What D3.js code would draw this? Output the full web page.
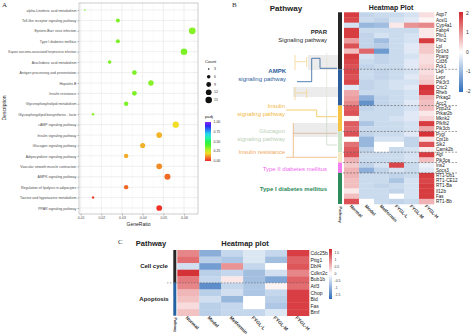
<!DOCTYPE html>
<html>
<head>
<meta charset="utf-8">
<script src="https://cdn.jsdelivr.net/npm/d3@7"></script>
<style>
  body { margin: 0; background: #fff; }
  text { font-family: "Liberation Sans", Arial, sans-serif; }
</style>
</head>
<body>
<svg id="fig" width="474" height="335"></svg>
<script>
// ---------- Panel A: KEGG enrichment dot plot ----------
const descriptions = [
  "alpha-Linolenic acid metabolism", "Toll-like receptor signaling pathway", "Epstein-Barr virus infection",
  "Type I diabetes mellitus", "Kaposi sarcoma-associated herpesvirus infection", "Arachidonic acid metabolism",
  "Antigen processing and presentation", "Hepatitis B", "Insulin resistance", "Glycerophospholipid metabolism",
  "Glycosphingolipid biosynthesis - lacto", "cAMP signaling pathway", "Insulin signaling pathway",
  "Glucagon signaling pathway", "Adipocytokine signaling pathway", "Vascular smooth muscle contraction",
  "AMPK signaling pathway", "Regulation of lipolysis in adipocytes", "Taurine and hypotaurine metabolism",
  "PPAR signaling pathway"
];
const geneRatio = [0.012, 0.028, 0.064, 0.028, 0.060, 0.024, 0.036, 0.044, 0.036, 0.032,
                   0.016, 0.056, 0.048, 0.040, 0.032, 0.048, 0.052, 0.032, 0.016, 0.048];
const geneCount = [3, 7, 16, 7, 15, 6, 9, 11, 9, 8, 4, 14, 12, 10, 8, 12, 13, 8, 4, 12];
const pAdj = [0.36, 0.35, 0.34, 0.35, 0.35, 0.35, 0.35, 0.34, 0.35, 0.35,
              0.34, 0.2, 0.155, 0.15, 0.145, 0.11, 0.075, 0.07, 0.02, 0.01];
const ratioTicks = [0.01, 0.02, 0.03, 0.04, 0.05, 0.06];
const countBreaks = [3, 6, 9, 12, 15];
const padjBreaks = [1, 0.75, 0.5, 0.25, 0];

// ---------- Panel B: heatmap of pathway genes ----------
const groupsColumns = ["Normal", "Model", "Metformin", "FYGL-L", "FYGL-M", "FYGL-H"];
const bGenes = ["Aqp7", "Acsl1", "Cyp4a1", "Fabp4", "Plin1", "Plin2", "Lpl", "Nr1h3", "Pparg", "Cd36", "Pck1",
  "Lep", "Lepr", "Pik3r3", "Crtc2", "Rheb", "Prkag2", "Acc2",
  "Ppp2r2", "Prkar2b", "Mknk2", "Pfkfb2", "Pik3cb",
  "Pygl", "Cpt1b", "Sik2", "Camk2b",
  "Agt", "Pik3ca",
  "Ins2", "Socs3",
  "RT1-Db1", "RT1-CE12", "RT1-Ba", "Il12b", "Fas", "RT1-Bb"];
const bValues = [
  [1.8, -0.6, -0.5, -0.5, -0.4, 0.3],
  [1.7, -0.5, -0.6, -0.4, -0.3, 0.1],
  [-0.4, -1.0, -0.9, 0.2, 1.0, 1.1],
  [1.8, -0.5, -0.5, -0.5, -0.5, 0.2],
  [1.8, -0.6, -0.4, -0.5, -0.4, 0.2],
  [0.9, -0.6, -0.9, -0.5, -0.4, 1.8],
  [1.6, -0.6, -0.7, -0.5, -0.3, 0.5],
  [0.6, 1.4, -1.4, -0.5, -0.3, 0.5],
  [1.8, -0.4, -0.6, -0.5, -0.4, 0.3],
  [1.7, -0.5, -0.6, -0.5, -0.3, 0.3],
  [1.6, -0.6, -0.5, -0.5, -0.3, 0.4],
  [1.7, -0.5, -0.6, -0.5, -0.4, 0.3],
  [1.6, -0.5, -0.6, -0.5, -0.3, 0.4],
  [1.7, -0.6, -0.5, -0.4, -0.4, 0.5],
  [-0.3, -0.6, -0.5, -0.4, -0.3, 1.9],
  [0.8, -0.5, -0.5, -0.5, -0.4, 1.8],
  [0.9, -1.1, -0.6, -0.5, -0.4, 0.7],
  [1.1, -1.5, -0.6, -0.5, -0.3, 0.6],
  [1.5, -0.6, -0.5, -0.5, -0.4, 0.6],
  [1.6, -0.5, -0.5, -0.5, -0.3, 0.2],
  [0.1, -0.5, -0.5, -0.4, -0.3, 0.4],
  [1.5, -0.8, -0.5, -0.5, -0.4, 1.8],
  [1.4, -0.5, -0.5, -0.5, -0.4, 0.8],
  [1.6, -0.6, -0.5, -0.5, -0.3, 1.9],
  [0.0, -1.0, -0.4, -0.4, -0.6, 0.3],
  [1.3, -1.0, 0.0, 0.0, -0.6, 1.6],
  [1.5, -0.6, 0.0, -0.5, -0.4, 0.2],
  [1.6, -0.5, -0.5, -0.5, -0.4, 1.8],
  [0.7, -0.5, -0.5, -0.5, -0.4, 0.6],
  [0.5, -0.6, -0.4, 1.7, -0.5, -0.2],
  [0.7, -1.1, -0.6, -0.4, -0.5, -0.3],
  [0.7, -0.5, -0.5, -0.6, -0.5, 1.8],
  [0.6, -0.5, -0.5, -0.8, -0.4, 1.7],
  [0.6, -0.5, -0.6, -0.5, -0.4, 1.8],
  [0.2, -0.5, -0.5, -0.6, -0.4, 1.8],
  [0.6, -0.5, -0.5, 0.0, -0.4, 1.8],
  [1.6, 0.0, -0.5, -0.6, -0.5, 0.7]
];
const bPathways = ["PPAR", "AMPK", "Insulin", "Glucagon", "Insulin resistance", "Type II", "Type I"];
const bPathwaySizes = [11, 7, 5, 4, 2, 2, 6];
const bPathwayColors = ["#262626", "#2b5d9c", "#f6c445", "#c9e4c6", "#f5e8c4", "#f27cf0", "#2e8b5c"];
const bLegendTicks = [2, 1, 0, -1, -2];

// ---------- Panel C: cell cycle / apoptosis heatmap ----------
const cGenes = ["Cdc25b", "Pttg1", "Dbf4", "Cdkn2c", "Bub1b", "Atf3", "Chop", "Bid", "Fas", "Bmf"];
const cValues = [
  [1.0, -1.0, -0.5, -0.3, -0.5, 1.6],
  [1.2, -0.6, -0.7, -0.3, -0.8, 1.3],
  [-0.4, -1.2, 0.9, -0.5, 0.0, 1.4],
  [1.7, -0.6, -0.5, -0.8, -0.4, 1.0],
  [1.1, -0.5, 0.2, -0.8, -1.1, 1.3],
  [1.0, -1.4, -0.5, -0.7, 0.1, 1.2],
  [0.6, -0.6, -0.4, -0.7, -0.5, 1.6],
  [0.5, -0.4, -0.9, 0.0, -0.6, 1.6],
  [0.3, -0.6, -0.5, 0.0, -0.7, 1.6],
  [0.5, -0.6, -0.5, -0.5, -0.3, 1.6]
];
const cPathways = ["Cell cycle", "Apoptosis"];
const cPathwaySizes = [5, 5];
const cPathwayColors = ["#262626", "#2461a0"];
const cLegendTicks = [1.5, 1, 0.5, 0, -0.5, -1, -1.5];

const svg = d3.select("#fig");
svg.append("rect").attr("width", 474).attr("height", 335).attr("fill", "#fff");

// panel letters
[["A", 2, 7], ["B", 232, 7], ["C", 118, 244]].forEach(([t, x, y]) => {
  svg.append("text").attr("x", x).attr("y", y).text(t)
    .style("font-family", "'Liberation Serif', serif").style("font-size", "7px").attr("fill", "#333");
});

// ===== Panel A =====
const xA = d3.scaleLinear().domain([0.00918, 0.06678]).range([79, 198]);
const yA = d3.scalePoint().domain(descriptions).range([10, 208]);
const rA = d3.scaleRadial().domain([3, 16]).range([0.8, 3.4]);
const colA = p => d3.hsl(270 * p, 0.88, 0.55).toString();

const gA = svg.append("g");
gA.append("rect").attr("x", 79).attr("y", 3).attr("width", 119).attr("height", 211).attr("fill", "#fff");
// minor grid
gA.selectAll(".minor").data(d3.range(0.015, 0.066, 0.01)).join("line")
  .attr("x1", d => xA(d)).attr("x2", d => xA(d)).attr("y1", 3).attr("y2", 214)
  .attr("stroke", "#f3f3f3").attr("stroke-width", 0.4);
gA.selectAll(".vmajor").data(ratioTicks).join("line")
  .attr("x1", d => xA(d)).attr("x2", d => xA(d)).attr("y1", 3).attr("y2", 214)
  .attr("stroke", "#e6e6e6").attr("stroke-width", 0.6);
gA.selectAll(".hmajor").data(descriptions).join("line")
  .attr("x1", 79).attr("x2", 198).attr("y1", d => yA(d)).attr("y2", d => yA(d))
  .attr("stroke", "#e6e6e6").attr("stroke-width", 0.6);

gA.selectAll("circle.pt").data(descriptions).join("circle")
  .attr("class", "pt")
  .attr("cx", (d, i) => xA(geneRatio[i]))
  .attr("cy", d => yA(d))
  .attr("r", (d, i) => rA(geneCount[i]))
  .attr("fill", (d, i) => colA(pAdj[i]));

gA.append("rect").attr("x", 79).attr("y", 3).attr("width", 119).attr("height", 211)
  .attr("fill", "none").attr("stroke", "#9a9a9a").attr("stroke-width", 0.5);

const axA = gA.append("g").attr("transform", "translate(0,214)")
  .call(d3.axisBottom(xA).tickValues(ratioTicks).tickFormat(d3.format(".2f")).tickSize(1.5).tickPadding(1.2));
const ayA = gA.append("g").attr("transform", "translate(79,0)")
  .call(d3.axisLeft(yA).tickSize(1.5).tickPadding(1.2));
[axA, ayA].forEach(ax => {
  ax.select(".domain").remove();
  ax.selectAll("line").attr("stroke", "#555").attr("stroke-width", 0.4);
  ax.selectAll("text").attr("fill", "#4d4d4d").style("font-size", "3.5px");
});
// long descriptions are squeezed to stay inside the left margin
ayA.selectAll("text").each(function () {
  if (this.getComputedTextLength() > 68) {
    d3.select(this).attr("textLength", 68).attr("lengthAdjust", "spacingAndGlyphs");
  }
});
gA.append("text").attr("x", 138.5).attr("y", 226).attr("text-anchor", "middle")
  .style("font-size", "5px").attr("fill", "#222").text("GeneRatio");
gA.append("text").attr("transform", "translate(5.5,108) rotate(-90)").attr("text-anchor", "middle")
  .style("font-size", "5px").attr("fill", "#222").text("Description");

// size legend
gA.append("text").attr("x", 205).attr("y", 63).style("font-size", "4.2px").attr("fill", "#222").text("Count");
const yCnt = d3.scalePoint().domain(countBreaks).range([69, 100]);
gA.selectAll("circle.lg").data(countBreaks).join("circle")
  .attr("class", "lg").attr("cx", 208.7).attr("cy", d => yCnt(d)).attr("r", d => rA(d)).attr("fill", "#111");
gA.selectAll("text.lg").data(countBreaks).join("text")
  .attr("class", "lg").attr("x", 214).attr("y", d => yCnt(d) + 1.2)
  .style("font-size", "3.5px").attr("fill", "#333").text(d => d);

// colour legend
gA.append("text").attr("x", 205).attr("y", 118).style("font-size", "4.2px").attr("fill", "#222").text("padj");
const gradA = svg.append("defs").append("linearGradient").attr("id", "gradA")
  .attr("x1", 0).attr("y1", 1).attr("x2", 0).attr("y2", 0);
d3.range(0, 1.0001, 0.1).forEach(p => gradA.append("stop").attr("offset", p).attr("stop-color", colA(p)));
const yPad = d3.scaleLinear().domain([1, 0]).range([122, 161]);
gA.append("rect").attr("x", 205).attr("y", 122).attr("width", 6).attr("height", 39).attr("fill", "url(#gradA)");
gA.selectAll("text.pl").data(padjBreaks).join("text")
  .attr("class", "pl").attr("x", 213.5).attr("y", d => yPad(d) + 1.2)
  .style("font-size", "3.5px").attr("fill", "#333").text(d => d3.format(".2f")(d));

// ===== Panel B =====
const colorB = d3.scaleLinear().domain([-2, 0, 2]).range(["#2f6eba", "#ffffff", "#d3262b"]).clamp(true);
const xB = d3.scaleBand().domain(groupsColumns).range([344, 434]);
const yB = d3.scaleBand().domain(bGenes).range([12.3, 204]);
const gB = svg.append("g");

gB.append("text").attr("x", 286).attr("y", 10.5).attr("text-anchor", "middle")
  .style("font-size", "8px").style("font-weight", "bold").attr("fill", "#222").text("Pathway");
gB.append("text").attr("x", 391).attr("y", 9.5).attr("text-anchor", "middle")
  .style("font-size", "7px").style("font-weight", "bold").attr("fill", "#222").text("Heatmap Plot");

// connector decorations beside the pathway bar
const decor = gB.append("g");
[[308, 55, 32, 15], [293, 87, 47, 10], [293, 123, 47, 14]].forEach(([x, y, w, h]) =>
  decor.append("rect").attr("x", x).attr("y", y).attr("width", w).attr("height", h).attr("fill", "#ececec"));
const decorPaths = [
  ["M295,55 V70 M295,61.7 H306.7 M306.7,57 V67", "#f7d391"],
  ["M295,87 V100 M295,93 H306.7 M306.7,89 V98", "#f7d391"],
  ["M326.7,53 V110", "#e3e3d5"],
  ["M297,81.7 H311.7 V58.3 H320 V68.3 H337", "#2b5d9c"],
  ["M286,110 H316.7 V116.7 H337", "#f3c24e"],
  ["M326.7,110 V145 H337", "#c9d9c5"],
  ["M293,133.3 H337", "#d9b49a"],
  ["M286,157.3 H293.3 V123 M293.3,157.3 H337", "#f1b276"]
];
decorPaths.forEach(([d, c]) => decor.append("path").attr("d", d).attr("fill", "none")
  .attr("stroke", c).attr("stroke-width", 0.8));

// pathway annotation bar
const bStarts = d3.cumsum([0, ...bPathwaySizes]);
bPathways.forEach((p, k) => {
  const y0 = yB(bGenes[bStarts[k]]);
  const y1 = yB(bGenes[bStarts[k + 1] - 1]) + yB.bandwidth();
  gB.append("rect").attr("x", 338).attr("y", y0).attr("width", 4).attr("height", y1 - y0)
    .attr("fill", bPathwayColors[k]);
});

// heatmap cells
bGenes.forEach((g, i) => {
  gB.selectAll(null).data(bValues[i]).join("rect")
    .attr("x", (d, j) => xB(groupsColumns[j])).attr("y", yB(g))
    .attr("width", xB.bandwidth() + 0.3).attr("height", yB.bandwidth() + 0.3)
    .attr("fill", d => colorB(d));
});
// group separators
bStarts.slice(1, -1).forEach(s => {
  const y = yB(bGenes[s]);
  gB.append("line").attr("x1", 343).attr("x2", 457).attr("y1", y).attr("y2", y)
    .attr("stroke", "#3a3a3a").attr("stroke-width", 0.5).attr("stroke-dasharray", "2,1.4");
});

gB.selectAll("text.gene").data(bGenes).join("text")
  .attr("class", "gene").attr("x", 436).attr("y", d => yB(d) + yB.bandwidth() / 2 + 1.6)
  .style("font-size", "4.6px").attr("fill", "#222").text(d => d);
gB.selectAll("text.col").data(groupsColumns).join("text")
  .attr("class", "col")
  .attr("transform", d => `translate(${xB(d) + xB.bandwidth() / 2 - 2},206.5) rotate(45)`)
  .style("font-size", "4.6px").style("font-weight", "bold").attr("fill", "#333").text(d => d);
gB.append("text").attr("transform", "translate(338.5,206.5) rotate(90)")
  .style("font-size", "4px").style("font-weight", "bold").attr("fill", "#333").text("Pathway");

// pathway labels
const bLabels = [
  { lines: ["PPAR", "Signaling pathway"], x: 327, y: 34, c: "#1f1f1f", bold: [true, false] },
  { lines: ["AMPK", "signaling pathway"], x: 286, y: 73, c: "#2b5d9c", bold: [true, false] },
  { lines: ["Insulin", "signaling pathway"], x: 285, y: 108, c: "#f3b73e", bold: [false, false] },
  { lines: ["Glucagon", "signaling pathway"], x: 285, y: 132.5, c: "#b9cfb7", bold: [false, false] },
  { lines: ["Insulin resistance"], x: 285, y: 154, c: "#f0a862", bold: [false] },
  { lines: ["Type II diabetes mellitus"], x: 327, y: 171, c: "#ef6aee", bold: [false] },
  { lines: ["Type I diabetes mellitus"], x: 327, y: 191, c: "#2e8b5c", bold: [true] }
];
bLabels.forEach(l => {
  l.lines.forEach((t, k) => {
    gB.append("text").attr("x", l.x).attr("y", l.y + k * 8).attr("text-anchor", "end")
      .style("font-size", "6px").style("font-weight", l.bold[k] ? "bold" : "normal")
      .attr("fill", l.c).text(t);
  });
});

// legend B
const defs = svg.select("defs");
const gradB = defs.append("linearGradient").attr("id", "gradB").attr("x1", 0).attr("y1", 1).attr("x2", 0).attr("y2", 0);
d3.range(-2, 2.001, 0.5).forEach(v => gradB.append("stop").attr("offset", (v + 2) / 4).attr("stop-color", colorB(v)));
const yLegB = d3.scaleLinear().domain([2, -2]).range([13, 91]);
gB.append("rect").attr("x", 459).attr("y", 12).attr("width", 4).attr("height", 80).attr("fill", "url(#gradB)");
gB.selectAll("text.lb").data(bLegendTicks).join("text")
  .attr("class", "lb").attr("x", 466).attr("y", d => yLegB(d) + 1.8)
  .style("font-size", "5px").attr("fill", "#333").text(d => d);

// ===== Panel C =====
const colorC = d3.scaleLinear().domain([-1.8, 0, 1.8]).range(["#2f6eba", "#ffffff", "#d3262b"]).clamp(true);
const xC = d3.scaleBand().domain(groupsColumns).range([177.3, 309]);
const yC = d3.scaleBand().domain(cGenes).range([250, 315.7]);
const gC = svg.append("g");

gC.append("text").attr("x", 151).attr("y", 245.5).attr("text-anchor", "middle")
  .style("font-size", "7.5px").style("font-weight", "bold").attr("fill", "#222").text("Pathway");
gC.append("text").attr("x", 245).attr("y", 245.5).attr("text-anchor", "middle")
  .style("font-size", "7.5px").style("font-weight", "bold").attr("fill", "#222").text("Heatmap plot");

const cStarts = d3.cumsum([0, ...cPathwaySizes]);
cPathways.forEach((p, k) => {
  const y0 = yC(cGenes[cStarts[k]]);
  const y1 = yC(cGenes[cStarts[k + 1] - 1]) + yC.bandwidth();
  gC.append("rect").attr("x", 173.3).attr("y", y0).attr("width", 3).attr("height", y1 - y0)
    .attr("fill", cPathwayColors[k]);
  gC.append("text").attr("x", 154).attr("y", (y0 + y1) / 2 + 2)
    .attr("text-anchor", "middle").style("font-size", "6px").style("font-weight", "bold")
    .attr("fill", "#222").text(p);
});

cGenes.forEach((g, i) => {
  gC.selectAll(null).data(cValues[i]).join("rect")
    .attr("x", (d, j) => xC(groupsColumns[j])).attr("y", yC(g))
    .attr("width", xC.bandwidth() + 0.3).attr("height", yC.bandwidth() + 0.3)
    .attr("fill", d => colorC(d));
});
cStarts.slice(1, -1).forEach(s => {
  const y = yC(cGenes[s]);
  gC.append("line").attr("x1", 167).attr("x2", 309).attr("y1", y).attr("y2", y)
    .attr("stroke", "#555").attr("stroke-width", 0.5).attr("stroke-dasharray", "1.5,1.5");
});

gC.selectAll("text.gene").data(cGenes).join("text")
  .attr("class", "gene").attr("x", 310.5).attr("y", d => yC(d) + yC.bandwidth() / 2 + 1.8)
  .style("font-size", "5px").attr("fill", "#222").text(d => d);
gC.selectAll("text.col").data(groupsColumns).join("text")
  .attr("class", "col")
  .attr("transform", d => `translate(${xC(d) + xC.bandwidth() / 2 - 3},318) rotate(45)`)
  .style("font-size", "4.8px").style("font-weight", "bold").attr("fill", "#333").text(d => d);
gC.append("text").attr("transform", "translate(173.5,317.5) rotate(90)")
  .style("font-size", "3.6px").style("font-weight", "bold").attr("fill", "#333").text("Pathway");

const gradC = defs.append("linearGradient").attr("id", "gradC").attr("x1", 0).attr("y1", 1).attr("x2", 0).attr("y2", 0);
d3.range(-1.8, 1.801, 0.45).forEach(v => gradC.append("stop").attr("offset", (v + 1.8) / 3.6).attr("stop-color", colorC(v)));
const yLegC = d3.scaleLinear().domain([1.8, -1.8]).range([249, 299]);
gC.append("rect").attr("x", 329).attr("y", 249).attr("width", 3).attr("height", 50).attr("fill", "url(#gradC)");
gC.selectAll("text.lc").data(cLegendTicks).join("text")
  .attr("class", "lc").attr("x", 334.5).attr("y", d => yLegC(d) + 1.2)
  .style("font-size", "3.4px").attr("fill", "#333").text(d => d);
</script>
</body>
</html>
